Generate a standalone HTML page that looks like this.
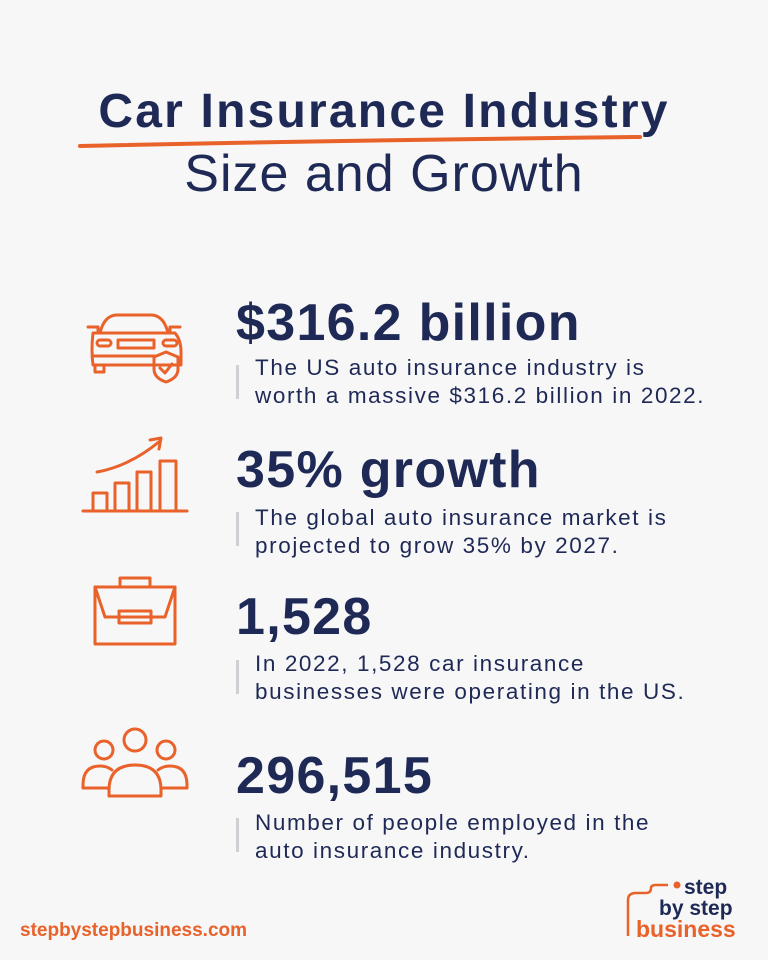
<!DOCTYPE html>
<html><head><style>
body{margin:0;background:#f7f7f8;}
.w{position:relative;width:768px;height:960px;overflow:hidden;font-family:"Liberation Sans",Arial,sans-serif;color:#1e2955;}
.t1{position:absolute;left:0;width:768px;text-align:center;top:84px;font-size:48px;letter-spacing:2.2px;font-weight:bold;}
.t2{position:absolute;left:0;width:768px;text-align:center;top:144px;font-size:52px;letter-spacing:1px;}
.h{position:absolute;left:236px;font-size:52px;letter-spacing:1.3px;font-weight:bold;line-height:1;}
.d{position:absolute;left:255px;font-size:22.5px;letter-spacing:1.6px;line-height:28px;}
.bar{position:absolute;left:236px;width:3px;height:34px;background:#d0d0d4;}
.url{position:absolute;left:20px;top:920px;font-size:19px;font-weight:bold;color:#e8622a;}
</style></head><body><div class="w">
<div class="t1">Car Insurance Industry</div>
<svg style="position:absolute;left:0;top:0" width="768" height="960">
<path d="M80 146 Q360 140 640 137" stroke="#e8622a" stroke-width="4" fill="none" stroke-linecap="round"/>
<g stroke="#e8622a" stroke-width="3" fill="none" stroke-linejoin="round" stroke-linecap="round">
<path d="M100 333 Q104 316 116 315 L152 315 Q164 316 168 333"/>
<path d="M93 333 L175 333 Q181 340 181 352 L181 365 L93 365 Q91 350 93 333Z"/>
<path d="M88 327 L98 327 L98 333 M180 327 L170 327 L170 333"/>
<rect x="97" y="340" width="14" height="6" rx="3"/><rect x="163" y="340" width="14" height="6" rx="3"/>
<rect x="118" y="340" width="36" height="8"/>
<path d="M93 356 L155 356"/>
<path d="M95 365 L95 372 L104 372 L104 365"/>
<path d="M166 352 L178 357 L178 369 Q178 378 166 382 Q154 378 154 369 L154 357Z"/>
<path d="M160 368 L165 373 L172 364"/>
<path d="M83 511 L187 511"/>
<rect x="93" y="493" width="14" height="18"/><rect x="115" y="483" width="14" height="28"/>
<rect x="137" y="472" width="14" height="39"/><rect x="160" y="461" width="16" height="50"/>
<path d="M97 472 Q130 466 160 441"/><path d="M150 440 L161 438 L159 449"/>
<rect x="95" y="587" width="80" height="57"/>
<path d="M95 587 L105 617 L165 617 L175 587"/>
<rect x="119" y="611" width="32" height="12"/>
<rect x="120" y="578" width="30" height="9"/>
<circle cx="135" cy="740" r="11"/><circle cx="104" cy="750" r="9"/><circle cx="166" cy="750" r="9"/>
<path d="M109 796 L109 790 Q109 765 135 765 Q161 765 161 790 L161 796Z"/>
<path d="M112 770 Q107 766 100 766 Q83 766 83 785 L83 788 L109 788"/>
<path d="M158 770 Q163 766 170 766 Q187 766 187 785 L187 788 L161 788"/>
</g>
<g stroke="#e8622a" stroke-width="2.5" fill="none"><path d="M628 936 L628 900 Q628 893 636 893 L646 893 Q651 893 651 888 Q651 885 656 885 L668 885"/></g>
<circle cx="677" cy="885" r="3.5" fill="#e8622a"/>
<text x="684" y="894" font-family="Liberation Sans" font-weight="bold" font-size="21" fill="#1e2955">step</text>
<text x="659" y="915" font-family="Liberation Sans" font-weight="bold" font-size="21" fill="#1e2955">by step</text>
<text x="636" y="937" font-family="Liberation Sans" font-weight="bold" font-size="23" fill="#e8622a">business</text>
</svg>
<div class="t2">Size and Growth</div>
<div class="h" style="top:297px">$316.2 billion</div>
<div class="bar" style="top:365px"></div>
<div class="d" style="top:354px">The US auto insurance industry is<br>worth a massive $316.2 billion in 2022.</div>
<div class="h" style="top:444px">35% growth</div>
<div class="bar" style="top:512px"></div>
<div class="d" style="top:504px">The global auto insurance market is<br>projected to grow 35% by 2027.</div>
<div class="h" style="top:591px">1,528</div>
<div class="bar" style="top:660px"></div>
<div class="d" style="top:650px">In 2022, 1,528 car insurance<br>businesses were operating in the US.</div>
<div class="h" style="top:750px">296,515</div>
<div class="bar" style="top:818px"></div>
<div class="d" style="top:809px">Number of people employed in the<br>auto insurance industry.</div>
<div class="url">stepbystepbusiness.com</div>
</div></body></html>
